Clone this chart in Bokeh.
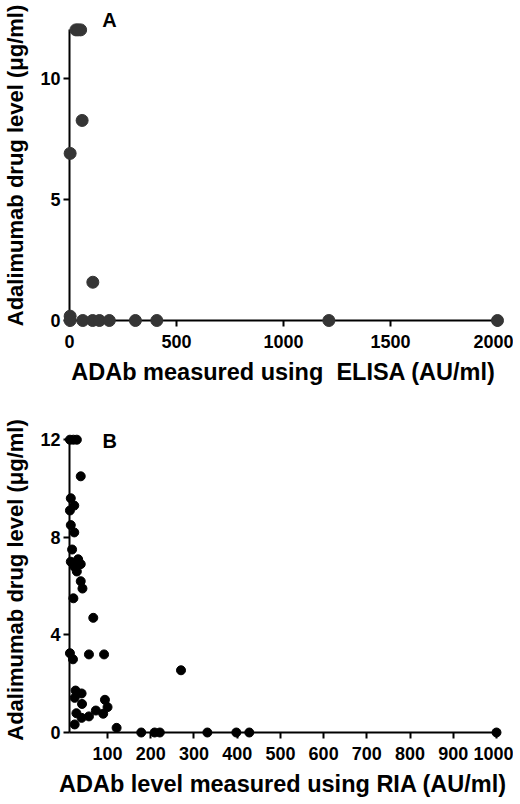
from bokeh.embed import file_html
from bokeh.layouts import column
from bokeh.models import FixedTicker, Label, Range1d
from bokeh.plotting import figure
from bokeh.resources import INLINE

# panel A: ADAb by ELISA vs drug level
elisa_adab = [30, 40, 52, 59, 3, 109, 3, 3, 62, 108, 140, 186, 308, 408, 1212, 2000]
elisa_drug = [12, 12, 12, 8.26, 6.9, 1.58, 0.18, 0, 0, 0, 0, 0, 0, 0, 0, 0]
elisa_xticks = [0, 500, 1000, 1500, 2000]
elisa_yticks = [0, 5, 10]

# panel B: ADAb by RIA vs drug level
ria_adab = [13, 21, 29, 38, 15, 13, 23, 15, 23, 18, 15, 23, 32, 38, 29, 38, 42, 21,
            67, 13, 20, 57, 92, 270, 26, 40, 24, 94, 41, 100, 28, 73, 90, 57, 40, 24,
            121, 178, 209, 221, 331, 398, 428, 1000]
ria_drug = [12, 12, 12, 10.5, 9.6, 9.1, 9.3, 8.5, 8.2, 7.5, 7.0, 6.8, 7.1, 6.9, 6.6, 6.2, 5.9, 5.5,
            4.7, 3.25, 3.0, 3.2, 3.2, 2.55, 1.72, 1.6, 1.42, 1.34, 1.17, 1.04, 0.79, 0.9, 0.77, 0.66, 0.6, 0.33,
            0.19, 0, 0, 0, 0, 0, 0, 0]
ria_xticks = [100, 200, 300, 400, 500, 600, 700, 800, 900, 1000]
ria_yticks = [0, 4, 8, 12]

FONT = "Liberation Sans"


def style_axes(p, xticks, yticks, xlabel, ylabel, ybounds):
    '''
      Prism-like axes: ticks outward, bold labels, no grid.
    '''
    p.xaxis.ticker = FixedTicker(ticks=xticks)
    p.yaxis.ticker = FixedTicker(ticks=yticks)
    p.yaxis.bounds = ybounds
    p.xaxis.axis_label = xlabel
    p.yaxis.axis_label = ylabel
    for ax in (p.xaxis, p.yaxis):
        ax.axis_line_width = 2
        ax.axis_line_color = "black"
        ax.major_tick_line_width = 2
        ax.major_tick_line_color = "black"
        ax.major_tick_out = 6
        ax.major_tick_in = 0
        ax.minor_tick_line_color = None
        ax.major_label_text_font = FONT
        ax.major_label_text_font_style = "bold"
        ax.major_label_text_font_size = "18px"
        ax.major_label_text_color = "black"
        ax.axis_label_text_font = FONT
        ax.axis_label_text_font_style = "bold"
        ax.axis_label_text_color = "black"
    p.xaxis.axis_label_text_font_size = "23.5px"
    p.yaxis.axis_label_text_font_size = "22px"
    p.xaxis.major_label_standoff = 8
    p.xaxis.axis_label_standoff = 8
    p.yaxis.major_label_standoff = 3
    p.yaxis.axis_label_standoff = 9
    p.grid.visible = False
    p.outline_line_color = None


def panel_letter(p, x, y, text):
    p.add_layout(Label(x=x, y=y, text=text, text_align="center", text_baseline="middle",
                       text_font=FONT, text_font_style="bold", text_font_size="20px",
                       text_color="black"))


pa = figure(output_backend="svg", toolbar_location=None,
            frame_width=428, frame_height=310,
            min_border_left=68, min_border_right=16, min_border_top=10, min_border_bottom=80,
            x_range=Range1d(0, 2000), y_range=Range1d(0, 12.8))
style_axes(pa, elisa_xticks, elisa_yticks,
           "ADAb measured using \u00a0ELISA (AU/ml)", "Adalimumab drug level (μg/ml)", (0, 12))
pa.scatter(x=elisa_adab, y=elisa_drug, size=12, color="#353535", level="overlay")
panel_letter(pa, 187, 12.4, "A")

pb = figure(output_backend="svg", toolbar_location=None,
            frame_width=427, frame_height=305,
            min_border_left=68, min_border_right=17, min_border_top=27, min_border_bottom=60,
            x_range=Range1d(12, 1000), y_range=Range1d(0, 12.5))
style_axes(pb, ria_xticks, ria_yticks,
           "ADAb level measured using RIA (AU/ml)", "Adalimumab drug level (μg/ml)", (0, 12))
pb.scatter(x=ria_adab, y=ria_drug, size=9, color="black", level="overlay")
panel_letter(pb, 105, 11.96, "B")

layout = column(pa, pb, spacing=0)
open("out.html", "w").write(file_html(layout, INLINE))
